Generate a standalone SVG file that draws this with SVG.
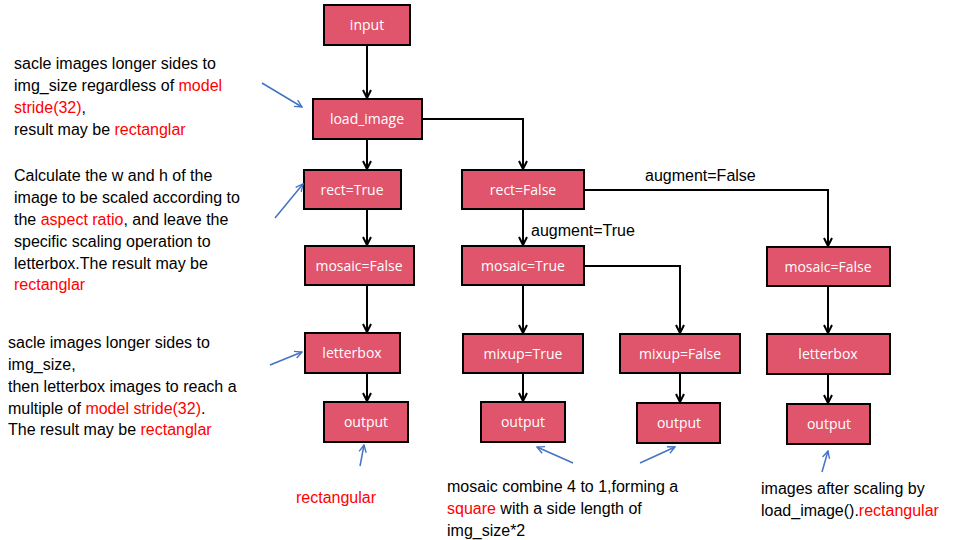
<svg xmlns="http://www.w3.org/2000/svg" width="960" height="540" viewBox="0 0 960 540">
<style>
.n rect{fill:#e0546c;stroke:#000;stroke-width:2}
.n text{fill:#fff;font-family:"Open Sans","Liberation Sans",sans-serif;font-size:14px;text-anchor:middle}
.c path{fill:none;stroke:#000;stroke-width:2;marker-end:url(#a)}
.b path{fill:none;stroke:#4472c4;stroke-width:1.5;marker-end:url(#ab)}
.t{font-family:"Liberation Sans",Arial,sans-serif;font-size:16px;fill:#000}
.r{fill:#ff0000}
</style>
<defs>
<marker id="a" viewBox="0 0 10 10" refX="9" refY="5" markerWidth="5" markerHeight="5" orient="auto"><path d="M1,1 L9,5 L1,9" fill="none" stroke="#000" stroke-width="2"/></marker>
<marker id="ab" viewBox="0 0 10 10" refX="9" refY="5" markerWidth="6" markerHeight="6" orient="auto"><path d="M1,1 L9,5 L1,9" fill="none" stroke="#4472c4" stroke-width="1.5"/></marker>
</defs>
<rect width="960" height="540" fill="#fff"/>
<g id="connectors" class="c">
<path d="M367,45 V98"/>
<path d="M367,139 V169"/>
<path d="M422,119 H523 V169"/>
<path d="M367,209 V245"/>
<path d="M523,209 V245"/>
<path d="M584,190 H828 V246"/>
<path d="M367,285 V332"/>
<path d="M523,285 V333"/>
<path d="M584,266 H680 V333"/>
<path d="M828,286 V333"/>
<path d="M367,373 V401"/>
<path d="M523,373 V401"/>
<path d="M680,373 V402"/>
<path d="M828,374 V403"/>
<text class="t" x="531" y="236">augment=True</text>
<text class="t" x="645" y="181">augment=False</text>
</g>
<g class="n">
<g id="input"><rect x="324" y="5" width="86" height="40"/><text x="367" y="30">input</text></g>
<g id="load_image"><rect x="313" y="99" width="109" height="40"/><text x="367" y="124">load_image</text></g>
<g id="rect_true"><rect x="304" y="170" width="97" height="39"/><text x="352" y="195">rect=True</text></g>
<g id="rect_false"><rect x="462" y="170" width="122" height="39"/><text x="523" y="195">rect=False</text></g>
<g id="mosaic_false_l"><rect x="305" y="246" width="109" height="39"/><text x="359" y="271">mosaic=False</text></g>
<g id="mosaic_true"><rect x="462" y="246" width="122" height="39"/><text x="523" y="271">mosaic=True</text></g>
<g id="mosaic_false_r"><rect x="767" y="247" width="123" height="39"/><text x="828" y="272">mosaic=False</text></g>
<g id="letterbox_l"><rect x="305" y="333" width="95" height="40"/><text x="352" y="358">letterbox</text></g>
<g id="mixup_true"><rect x="463" y="334" width="120" height="39"/><text x="523" y="359">mixup=True</text></g>
<g id="mixup_false"><rect x="620" y="334" width="120" height="39"/><text x="680" y="359">mixup=False</text></g>
<g id="letterbox_r"><rect x="767" y="334" width="123" height="40"/><text x="828" y="359">letterbox</text></g>
<g id="output_1"><rect x="324" y="402" width="84" height="40"/><text x="366" y="427">output</text></g>
<g id="output_2"><rect x="481" y="402" width="84" height="40"/><text x="523" y="427">output</text></g>
<g id="output_3"><rect x="637" y="403" width="83" height="40"/><text x="679" y="428">output</text></g>
<g id="output_4"><rect x="787" y="404" width="83" height="40"/><text x="829" y="429">output</text></g>
</g>
<g id="notes" class="b">
<path d="M262,83 L302,107"/>
<path d="M275,218 L303,184"/>
<path d="M270,365 L302,352"/>
<path d="M360,466 L364,445"/>
<path d="M573,463 L537,447"/>
<path d="M640,463 L675,447"/>
<path d="M822,472 L828,451"/>
</g>
<g id="text_notes" class="t">
<text x="14" y="69">sacle images longer sides to</text>
<text x="14" y="91">img_size regardless of <tspan class="r">model</tspan></text>
<text x="14" y="113"><tspan class="r">stride(32)</tspan>,</text>
<text x="14" y="135">result may be <tspan class="r">rectanglar</tspan></text>
<text x="14" y="181">Calculate the w and h of the</text>
<text x="14" y="203">image to be scaled according to</text>
<text x="14" y="225">the <tspan class="r">aspect ratio</tspan>, and leave the</text>
<text x="14" y="247">specific scaling operation to</text>
<text x="14" y="269">letterbox.The result may be</text>
<text x="14" y="290" class="r">rectanglar</text>
<text x="8" y="348">sacle images longer sides to</text>
<text x="8" y="370">img_size,</text>
<text x="8" y="392">then letterbox images to reach a</text>
<text x="8" y="414">multiple of <tspan class="r">model stride(32)</tspan>.</text>
<text x="8" y="435">The result may be <tspan class="r">rectanglar</tspan></text>
<text x="296" y="503" class="r">rectangular</text>
<text x="447" y="492">mosaic combine 4 to 1,forming a</text>
<text x="447" y="514"><tspan class="r">square</tspan> with a side length of</text>
<text x="447" y="536">img_size*2</text>
<text x="761" y="494">images after scaling by</text>
<text x="761" y="516">load_image().<tspan class="r">rectangular</tspan></text>
</g>
</svg>
